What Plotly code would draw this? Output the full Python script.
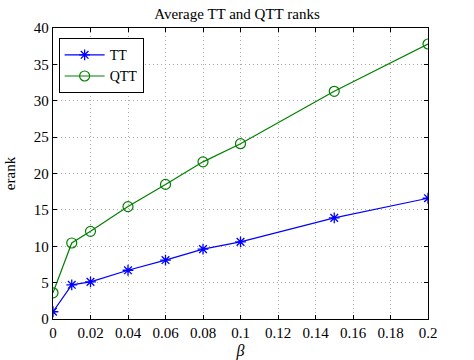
import plotly.graph_objects as go

beta = [0, 0.01, 0.02, 0.04, 0.06, 0.08, 0.1, 0.15, 0.2]
tt = [1.0, 4.7, 5.1, 6.7, 8.1, 9.6, 10.6, 13.9, 16.6]
qtt = [3.6, 10.45, 12.05, 15.45, 18.5, 21.6, 24.1, 31.3, 37.8]
xtick_vals = [0, 0.02, 0.04, 0.06, 0.08, 0.1, 0.12, 0.14, 0.16, 0.18, 0.2]
xtick_text = ["0", "0.02", "0.04", "0.06", "0.08", "0.1", "0.12", "0.14", "0.16", "0.18", "0.2"]
ytick_vals = [0, 5, 10, 15, 20, 25, 30, 35, 40]

FONT = "Liberation Serif"

fig = go.Figure()
fig.add_trace(go.Scatter(
    x=beta, y=tt, name="TT", mode="lines+markers",
    line=dict(color="#0000ff", width=1.2),
    marker=dict(symbol="asterisk-open", size=9, color="#0000ff",
                line=dict(color="#0000ff", width=1.3)),
))
fig.add_trace(go.Scatter(
    x=beta, y=qtt, name="QTT", mode="lines+markers",
    line=dict(color="#008000", width=1.2),
    marker=dict(symbol="circle-open", size=10, color="#008000",
                line=dict(color="#008000", width=1.2)),
))

def axis_common():
    return dict(
        showline=True, linecolor="black", linewidth=1.3, mirror="ticks",
        ticks="inside", ticklen=4, tickcolor="black", tickwidth=1,
        showgrid=True, gridcolor="#a8a8a8", griddash="1px,3px", gridwidth=1,
        zeroline=False, automargin=False,
        tickfont=dict(family=FONT, size=15, color="black"),
    )

fig.update_layout(
    width=474, height=360,
    margin=dict(l=53, r=46, t=28, b=41),
    paper_bgcolor="white", plot_bgcolor="white",
    font=dict(family=FONT, color="black"),
    title=dict(text="Average TT and QTT ranks", x=0.5, xanchor="center",
               y=0.963, yanchor="middle",
               font=dict(family=FONT, size=15, color="black")),
    xaxis=dict(range=[0, 0.2], tickvals=xtick_vals, ticktext=xtick_text,
               title=dict(text="<i>β</i>", standoff=4,
                          font=dict(family=FONT, size=16, color="black")),
               **axis_common()),
    yaxis=dict(range=[0, 40], tickvals=ytick_vals,
               title=dict(text="erank", standoff=14,
                          font=dict(family=FONT, size=15, color="black")),
               **axis_common()),
    legend=dict(x=0.015, y=0.965, xanchor="left", yanchor="top",
                bgcolor="white", bordercolor="black", borderwidth=1,
                font=dict(family=FONT, size=14, color="black"),
                tracegroupgap=0, itemwidth=40),
    showlegend=True,
)

fig.write_html("out.html", config={"displayModeBar": False},
               post_script="document.body.style.margin='0';document.body.style.padding='0';")
